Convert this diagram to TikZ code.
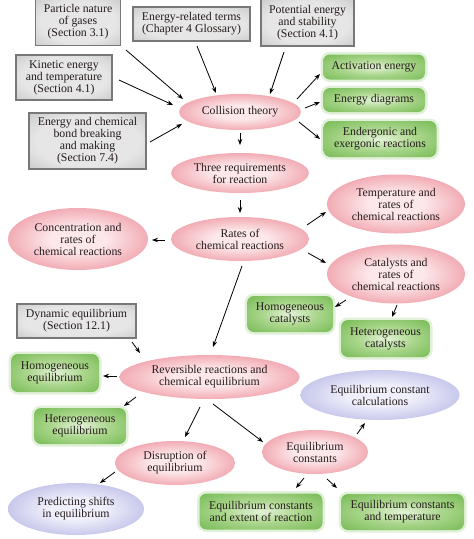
\documentclass[tikz,border=0pt]{standalone}
\usepackage{fontspec}
\setmainfont{Liberation Serif}
\usetikzlibrary{shapes.geometric,arrows.meta}
\definecolor{pkE}{RGB}{230,108,122}
\definecolor{pkM}{RGB}{240,160,170}
\definecolor{pkC}{RGB}{252,232,234}
\definecolor{grE}{RGB}{118,186,84}
\definecolor{grM}{RGB}{170,214,140}
\definecolor{grC}{RGB}{226,242,214}
\definecolor{blE}{RGB}{150,150,210}
\definecolor{blM}{RGB}{192,192,232}
\definecolor{blC}{RGB}{240,240,252}
\definecolor{gyE}{RGB}{176,176,176}
\definecolor{gyC}{RGB}{230,230,230}
\definecolor{gyB}{RGB}{120,120,120}
\definecolor{txt}{RGB}{38,28,28}
\pgfdeclareradialshading{pinkglow}{\pgfpoint{0bp}{0bp}}{color(0bp)=(pkC); color(10bp)=(pkC); color(28bp)=(pkM); color(40bp)=(pkE); color(45bp)=(pkE!60!white); color(50bp)=(white)}
\pgfdeclareradialshading{blueglow}{\pgfpoint{0bp}{0bp}}{color(0bp)=(blC); color(10bp)=(blC); color(28bp)=(blM); color(40bp)=(blE); color(45bp)=(blE!60!white); color(50bp)=(white)}
\pgfdeclareradialshading{greenglow}{\pgfpoint{0bp}{0bp}}{color(0bp)=(grC); color(16bp)=(grM); color(36bp)=(grE); color(50bp)=(grE)}
\pgfdeclareradialshading{grayshade}{\pgfpoint{0bp}{0bp}}{color(0bp)=(gyC); color(22bp)=(gyC); color(50bp)=(gyE)}
\tikzset{
  base/.style={font=\fontsize{11.8}{12}\selectfont, align=center, inner sep=0pt, text=txt},
  graybox/.style={base, rectangle, draw=gyB, line width=1.2pt, shade, shading=grayshade},
  pinkell/.style={base, ellipse, shade, shading=pinkglow},
  blueell/.style={base, ellipse, shade, shading=blueglow},
  greenbox/.style={base, rectangle, rounded corners=7pt, preaction={draw=grE!22, line width=5pt}, shade, shading=greenglow},
  arr/.style={-{Stealth[length=6pt,width=4.5pt]}, line width=0.8pt, black}
}
\begin{document}
\begin{tikzpicture}[x=1pt,y=-1pt]
\useasboundingbox (0,0) rectangle (474,539);
% gray boxes
\node[graybox, minimum width=85pt, minimum height=47pt] (g1) at (78,22) {Particle nature\\of gases\\(Section 3.1)};
\node[graybox, minimum width=117pt, minimum height=34pt] (g2) at (191.5,24) {Energy-related terms\\(Chapter 4 Glossary)};
\node[graybox, minimum width=93pt, minimum height=47pt] (g3) at (307.5,22.5) {Potential energy\\and stability\\(Section 4.1)};
\node[graybox, minimum width=96pt, minimum height=45pt] (g4) at (64,77.5) {Kinetic energy\\and temperature\\(Section 4.1)};
\node[graybox, minimum width=117pt, minimum height=56pt] (g5) at (87.5,141) {Energy and chemical\\bond breaking\\and making\\(Section 7.4)};
\node[graybox, minimum width=119pt, minimum height=34pt] (g6) at (76.5,321) {Dynamic equilibrium\\(Section 12.1)};
% pink ellipses
\node[pinkell, minimum width=122pt, minimum height=36pt] (p1) at (240,112) {Collision theory};
\node[pinkell, minimum width=138pt, minimum height=40pt] (p2) at (240,173) {Three requirements\\for reaction};
\node[pinkell, minimum width=138pt, minimum height=44pt] (p3) at (240,239) {Rates of\\chemical reactions};
\node[pinkell, minimum width=140pt, minimum height=62pt] (p4) at (78,239) {Concentration and\\rates of\\chemical reactions};
\node[pinkell, minimum width=138pt, minimum height=59pt] (p5) at (396,204) {Temperature and\\rates of\\chemical reactions};
\node[pinkell, minimum width=138pt, minimum height=59pt] (p6) at (396,274) {Catalysts and\\rates of\\chemical reactions};
\node[pinkell, minimum width=180pt, minimum height=44pt] (p7) at (209.5,377) {Reversible reactions and\\chemical equilibrium};
\node[pinkell, minimum width=120pt, minimum height=44pt] (p8) at (175,463) {Disruption of\\equilibrium};
\node[pinkell, minimum width=106pt, minimum height=44pt] (p9) at (315,452) {Equilibrium\\constants};
% blue ellipses
\node[blueell, minimum width=136pt, minimum height=52pt] (b1) at (76,509) {Predicting shifts\\in equilibrium};
\node[blueell, minimum width=159pt, minimum height=50pt] (b2) at (380,395) {Equilibrium constant\\calculations};
% green boxes
\node[greenbox, minimum width=102pt, minimum height=25pt] (n1) at (374,67) {Activation energy};
\node[greenbox, minimum width=102pt, minimum height=24pt] (n2) at (374,100) {Energy diagrams};
\node[greenbox, minimum width=113pt, minimum height=36pt] (n3) at (380,139) {Endergonic and\\exergonic reactions};
\node[greenbox, minimum width=86pt, minimum height=36pt] (n4) at (290,314) {Homogeneous\\catalysts};
\node[greenbox, minimum width=89pt, minimum height=37pt] (n5) at (385.5,338.5) {Heterogeneous\\catalysts};
\node[greenbox, minimum width=88pt, minimum height=38pt] (n6) at (55,373) {Homogeneous\\equilibrium};
\node[greenbox, minimum width=92pt, minimum height=36pt] (n7) at (80,426) {Heterogeneous\\equilibrium};
\node[greenbox, minimum width=123pt, minimum height=36pt] (n8) at (261,511.5) {Equilibrium constants\\and extent of reaction};
\node[greenbox, minimum width=123pt, minimum height=36pt] (n9) at (402.5,512) {Equilibrium constants\\and temperature};
% arrows
\draw[arr] ([shift={(48,28)}]g1.center) -- ([shift={(-57,-13)}]p1.center);
\draw[arr] ([shift={(55,2.5)}]g4.center) -- ([shift={(-67,-7)}]p1.center);
\draw[arr] ([shift={(62.5,1)}]g5.center) -- ([shift={(-58,12)}]p1.center);
\draw[arr] ([shift={(5.5,22)}]g2.center) -- ([shift={(-24,-19)}]p1.center);
\draw[arr] ([shift={(-23.5,29.5)}]g3.center) -- ([shift={(30,-18)}]p1.center);
\draw[arr] ([shift={(57,-13)}]p1.center) -- ([shift={(-54,7)}]n1.center);
\draw[arr] ([shift={(65,-4)}]p1.center) -- ([shift={(-54,2)}]n2.center);
\draw[arr] ([shift={(59,10)}]p1.center) -- ([shift={(-60,0)}]n3.center);
\draw[arr] ([shift={(0,21)}]p1.center) -- ([shift={(0,-28)}]p2.center);
\draw[arr] ([shift={(0,27)}]p2.center) -- ([shift={(0,-26)}]p3.center);
\draw[arr] ([shift={(-75,1)}]p3.center) -- ([shift={(74,1)}]p4.center);
\draw[arr] ([shift={(67,-14)}]p3.center) -- ([shift={(-70,8)}]p5.center);
\draw[arr] ([shift={(68,14)}]p3.center) -- ([shift={(-70,-11)}]p6.center);
\draw[arr] ([shift={(-50,26)}]p6.center) -- ([shift={(45,-7)}]n4.center);
\draw[arr] ([shift={(1,31)}]p6.center) -- ([shift={(6.5,-21.5)}]n5.center);
\draw[arr] ([shift={(2,27)}]p3.center) -- ([shift={(3.5,-30)}]p7.center);
\draw[arr] ([shift={(55.5,21)}]g6.center) -- ([shift={(-69.5,-24)}]p7.center);
\draw[arr] ([shift={(-92.5,-1)}]p7.center) -- ([shift={(48,3)}]n6.center);
\draw[arr] ([shift={(-73.5,20)}]p7.center) -- ([shift={(44,-20)}]n7.center);
\draw[arr] ([shift={(-9.5,30)}]p7.center) -- ([shift={(10,-26)}]p8.center);
\draw[arr] ([shift={(3.5,27)}]p7.center) -- ([shift={(-52,-10)}]p9.center);
\draw[arr] ([shift={(-60,9)}]p8.center) -- ([shift={(24,-26)}]b1.center);
\draw[arr] ([shift={(42,-18)}]p9.center) -- ([shift={(-15,28)}]b2.center);
\draw[arr] ([shift={(-11,26)}]p9.center) -- ([shift={(35,-23.5)}]n8.center);
\draw[arr] ([shift={(12,27)}]p9.center) -- ([shift={(-65.5,-24)}]n9.center);
\end{tikzpicture}
\end{document}
